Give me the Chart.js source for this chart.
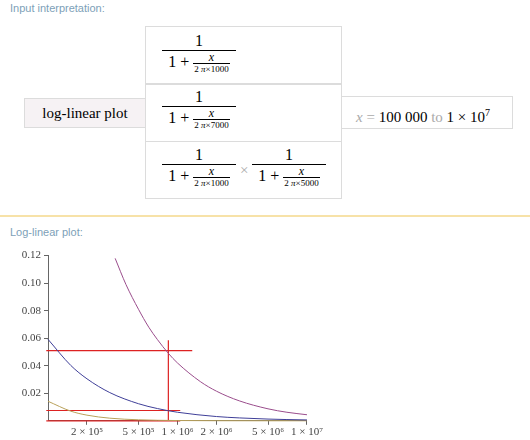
<!DOCTYPE html>
<html>
<head>
<meta charset="utf-8">
<script src="https://cdn.jsdelivr.net/npm/chart.js@4"></script>
<style>
  body { margin: 0; width: 530px; height: 440px; background: #fff; position: relative; overflow: hidden; font-family: "Liberation Serif", serif; }
  .pod-title { position: absolute; left: 10px; font: 11px "Liberation Sans", Arial, sans-serif; color: #7d9fb8; }
  .box { position: absolute; box-sizing: border-box; border: 1px solid #dcdcdc; }
  .cell { position: absolute; left: 145px; width: 197px; height: 58px; box-sizing: border-box; border: 1px solid #dcdcdc; background: #fff; }
  .frac { position: absolute; text-align: center; }
  .num { font-size: 16px; line-height: 18px; }
  .bar { border-top: 1px solid #000; padding-top: 1px; }
  .den { font-size: 16px; line-height: 18px; white-space: nowrap; }
  .sub { display: inline-block; vertical-align: middle; text-align: center; }
  .sub .x { font-style: italic; font-size: 12px; line-height: 11px; }
  .sub .d { border-top: 1px solid #000; font-size: 9px; line-height: 11px; padding: 0 1px; }
  .gray { color: #aaa; }
  #chartWrap { position: absolute; left: 0; top: 246px; width: 324px; height: 194px; }
</style>
</head>
<body>
<div class="pod-title" style="top:2px">Input interpretation:</div>

<div class="box" style="left:24px;top:98px;width:122px;height:30px;background:#f6f2f4;font-size:15px;text-align:center;line-height:28px;">log-linear plot</div>

<div class="cell" style="top:26px">
  <div class="frac" style="left:16px;top:5px;width:74px">
    <div class="num">1</div>
    <div class="bar den">1 + <span class="sub"><div class="x">x</div><div class="d">2 <i>π</i>×1000</div></span></div>
  </div>
</div>
<div class="cell" style="top:84px">
  <div class="frac" style="left:16px;top:3px;width:74px">
    <div class="num">1</div>
    <div class="bar den">1 + <span class="sub"><div class="x">x</div><div class="d">2 <i>π</i>×7000</div></span></div>
  </div>
</div>
<div class="cell" style="top:141px">
  <div class="frac" style="left:16px;top:4px;width:74px">
    <div class="num">1</div>
    <div class="bar den">1 + <span class="sub"><div class="x">x</div><div class="d">2 <i>π</i>×1000</div></span></div>
  </div>
  <div class="gray" style="position:absolute;left:94px;top:20px;font-size:15px">×</div>
  <div class="frac" style="left:106px;top:4px;width:74px">
    <div class="num">1</div>
    <div class="bar den">1 + <span class="sub"><div class="x">x</div><div class="d">2 <i>π</i>×5000</div></span></div>
  </div>
</div>

<div class="box" style="left:341px;top:96px;width:172px;height:33px;font-size:15px;line-height:31px;padding-left:14px;">
  <i class="gray">x</i> <span class="gray">=</span> 100 000 <span class="gray">to</span> 1 × 10<sup style="font-size:10px">7</sup>
</div>

<div style="position:absolute;left:0;top:215px;width:530px;height:2px;background:#f7e2a8;"></div>
<div class="pod-title" style="top:226px">Log-linear plot:</div>

<div id="chartWrap"><canvas id="c"></canvas></div>

<script>
const xBlue = [1e5, 1.5e5, 2e5, 3e5, 5e5, 7e5, 1e6, 2e6, 3e6, 5e6, 7e6, 1e7];
const yBlue = [0.0592, 0.0402, 0.0305, 0.0205, 0.0124, 0.0089, 0.0062, 0.0031, 0.0021, 0.00126, 0.0009, 0.00063];

const xPurple = [3.3e5, 4e5, 5e5, 6e5, 7e5, 8.5e5, 1e6, 1.5e6, 2e6, 3e6, 5e6, 7e6, 1e7];
const yPurple = [0.118, 0.099, 0.081, 0.068, 0.059, 0.049, 0.042, 0.0285, 0.0215, 0.0145, 0.0087, 0.0062, 0.0044];

const xYellow = [1e5, 1.5e5, 2e5, 3e5, 5e5, 7e5, 1e6, 2e6, 5e6, 1e7];
const yYellow = [0.0142, 0.0070, 0.0041, 0.0019, 0.00073, 0.00038, 0.00019, 0.00005, 0.00001, 0.000002];

// red marker lines: [x1, y1, x2, y2]
const redLines = [
  [0.97e5, 0.051, 1.3e6, 0.051],
  [8.5e5, 0.0585, 8.5e5, 0],
  [0.97e5, 0.0075, 1.05e6, 0.0075],
  [0.97e5, 0, 1.05e6, 0]
];

const xTicks = [2e5, 5e5, 1e6, 2e6, 5e6, 1e7];
const xTickLabels = ['2 × 10⁵', '5 × 10⁵', '1 × 10⁶', '2 × 10⁶', '5 × 10⁶', '1 × 10⁷'];
const yTicks = [0.02, 0.04, 0.06, 0.08, 0.10, 0.12];

function pts(xs, ys) { return xs.map(function (x, i) { return { x: x, y: ys[i] }; }); }

const curve = function (label, data, color) {
  return { label: label, data: data, borderColor: color, borderWidth: 1, pointRadius: 0, showLine: true, cubicInterpolationMode: 'monotone', fill: false };
};

const datasets = [
  curve('purple', pts(xPurple, yPurple), '#9a4d8c'),
  curve('blue', pts(xBlue, yBlue), '#3f3f98'),
  curve('yellow', pts(xYellow, yYellow), '#b9a15a')
];
redLines.forEach(function (l, i) {
  datasets.push({ label: 'red' + i, data: [{ x: l[0], y: l[1] }, { x: l[2], y: l[3] }], borderColor: '#dd2222', borderWidth: 1.2, pointRadius: 0, showLine: true });
});

Chart.defaults.font.family = "'Liberation Serif', 'DejaVu Serif', serif";

new Chart(document.getElementById('c'), {
  type: 'scatter',
  data: { datasets: datasets },
  options: {
    responsive: true,
    maintainAspectRatio: false,
    animation: false,
    clip: false,
    layout: { padding: { top: 6, right: 12, bottom: 0, left: 0 } },
    plugins: { legend: { display: false }, tooltip: { enabled: false } },
    scales: {
      x: {
        type: 'logarithmic', min: 1e5, max: 1e7,
        afterBuildTicks: function (axis) { axis.ticks = xTicks.map(function (v) { return { value: v }; }); },
        ticks: {
          autoSkip: false, maxRotation: 0, padding: 1,
          font: { size: 11 }, color: '#444',
          callback: function (v) { const i = xTicks.indexOf(v); return i >= 0 ? xTickLabels[i] : ''; }
        },
        grid: { display: true, drawOnChartArea: false, tickLength: 4, color: '#666' },
        border: { color: '#666' }
      },
      y: {
        min: 0, max: 0.12,
        afterBuildTicks: function (axis) { axis.ticks = yTicks.map(function (v) { return { value: v }; }); },
        afterFit: function (axis) { axis.width = 48; },
        ticks: {
          padding: 3, font: { size: 11 }, color: '#444',
          callback: function (v) { return v.toFixed(2); }
        },
        grid: { display: true, drawOnChartArea: false, tickLength: 4, color: '#666' },
        border: { color: '#666' }
      }
    }
  }
});
</script>
</body>
</html>
